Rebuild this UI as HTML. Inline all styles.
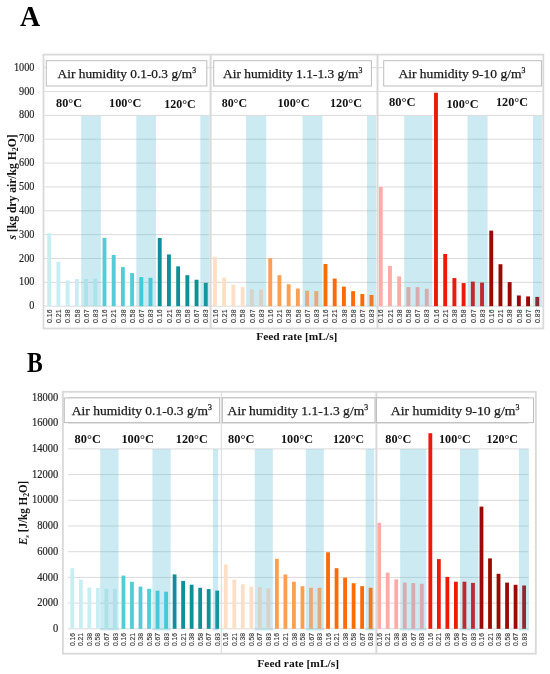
<!DOCTYPE html>
<html><head><meta charset="utf-8"><title>Chart</title>
<style>html,body{margin:0;padding:0;background:#fff;width:550px;height:674px;overflow:hidden}svg{display:block;will-change:transform}</style>
</head><body>
<svg width="550" height="674" viewBox="0 0 550 674">
<rect width="550" height="674" fill="#fff"/>
<text x="20.0" y="25.9" font-family='"Liberation Serif", serif' font-weight="bold" font-size="29.5" fill="#000" textLength="20.2" lengthAdjust="spacingAndGlyphs">A</text>
<text x="27.0" y="371.8" font-family='"Liberation Serif", serif' font-weight="bold" font-size="29" fill="#000" textLength="15.8" lengthAdjust="spacingAndGlyphs">B</text>
<rect x="43.5" y="54.6" width="499.79999999999995" height="273.9" fill="#fff" stroke="#d9d9d9" stroke-width="1.8"/>
<line x1="44.2" x2="542.6" y1="282.35" y2="282.35" stroke="#dbdbdb" stroke-width="1"/>
<line x1="44.2" x2="542.6" y1="258.50" y2="258.50" stroke="#dbdbdb" stroke-width="1"/>
<line x1="44.2" x2="542.6" y1="234.65" y2="234.65" stroke="#dbdbdb" stroke-width="1"/>
<line x1="44.2" x2="542.6" y1="210.80" y2="210.80" stroke="#dbdbdb" stroke-width="1"/>
<line x1="44.2" x2="542.6" y1="186.95" y2="186.95" stroke="#dbdbdb" stroke-width="1"/>
<line x1="44.2" x2="542.6" y1="163.10" y2="163.10" stroke="#dbdbdb" stroke-width="1"/>
<line x1="44.2" x2="542.6" y1="139.25" y2="139.25" stroke="#dbdbdb" stroke-width="1"/>
<line x1="44.2" x2="542.6" y1="115.40" y2="115.40" stroke="#dbdbdb" stroke-width="1"/>
<line x1="44.2" x2="542.6" y1="91.55" y2="91.55" stroke="#dbdbdb" stroke-width="1"/>
<line x1="44.2" x2="542.6" y1="67.70" y2="67.70" stroke="#dbdbdb" stroke-width="1"/>
<line x1="44.2" x2="542.6" y1="306.20" y2="306.20" stroke="#dbdbdb" stroke-width="1"/>
<rect x="47.26" y="233.22" width="3.9" height="72.98" fill="#c6eef3"/>
<rect x="56.47" y="261.84" width="3.9" height="44.36" fill="#c6eef3"/>
<rect x="65.68" y="280.44" width="3.9" height="25.76" fill="#c6eef3"/>
<rect x="74.89" y="279.01" width="3.9" height="27.19" fill="#c6eef3"/>
<rect x="102.52" y="237.99" width="3.9" height="68.21" fill="#52cdd8"/>
<rect x="111.73" y="254.92" width="3.9" height="51.28" fill="#52cdd8"/>
<rect x="120.93" y="267.09" width="3.9" height="39.11" fill="#52cdd8"/>
<rect x="130.14" y="273.05" width="3.9" height="33.15" fill="#52cdd8"/>
<rect x="157.77" y="237.99" width="3.9" height="68.21" fill="#0f9098"/>
<rect x="166.98" y="254.45" width="3.9" height="51.75" fill="#0f9098"/>
<rect x="176.19" y="266.37" width="3.9" height="39.83" fill="#0f9098"/>
<rect x="185.40" y="275.19" width="3.9" height="31.00" fill="#0f9098"/>
<rect x="194.61" y="279.73" width="3.9" height="26.47" fill="#0f9098"/>
<rect x="213.02" y="256.83" width="3.9" height="49.37" fill="#fddfc6"/>
<rect x="222.23" y="277.58" width="3.9" height="28.62" fill="#fddfc6"/>
<rect x="231.44" y="284.74" width="3.9" height="21.46" fill="#fddfc6"/>
<rect x="240.65" y="287.12" width="3.9" height="19.08" fill="#fddfc6"/>
<rect x="268.28" y="258.26" width="3.9" height="47.94" fill="#fba050"/>
<rect x="277.48" y="275.19" width="3.9" height="31.00" fill="#fba050"/>
<rect x="286.69" y="284.26" width="3.9" height="21.94" fill="#fba050"/>
<rect x="295.90" y="288.55" width="3.9" height="17.65" fill="#fba050"/>
<rect x="323.53" y="263.99" width="3.9" height="42.21" fill="#fd6a08"/>
<rect x="332.74" y="278.53" width="3.9" height="27.67" fill="#fd6a08"/>
<rect x="341.95" y="286.64" width="3.9" height="19.56" fill="#fd6a08"/>
<rect x="351.15" y="291.17" width="3.9" height="15.03" fill="#fd6a08"/>
<rect x="360.36" y="294.04" width="3.9" height="12.16" fill="#fd6a08"/>
<rect x="378.78" y="186.95" width="3.9" height="119.25" fill="#fcaca6"/>
<rect x="387.99" y="265.89" width="3.9" height="40.31" fill="#fcaca6"/>
<rect x="397.20" y="276.39" width="3.9" height="29.81" fill="#fcaca6"/>
<rect x="434.03" y="92.74" width="3.9" height="213.46" fill="#ec1a08"/>
<rect x="443.24" y="253.97" width="3.9" height="52.23" fill="#ec1a08"/>
<rect x="452.45" y="278.06" width="3.9" height="28.14" fill="#ec1a08"/>
<rect x="461.66" y="283.07" width="3.9" height="23.13" fill="#ec1a08"/>
<rect x="489.29" y="230.60" width="3.9" height="75.60" fill="#990a04"/>
<rect x="498.50" y="264.22" width="3.9" height="41.98" fill="#990a04"/>
<rect x="507.70" y="282.11" width="3.9" height="24.09" fill="#990a04"/>
<rect x="516.91" y="295.47" width="3.9" height="10.73" fill="#990a04"/>
<rect x="526.12" y="296.42" width="3.9" height="9.78" fill="#990a04"/>
<rect x="81.15" y="116.00" width="19.72" height="190.20" fill="#45b4cd" fill-opacity="0.28"/>
<rect x="136.30" y="116.00" width="19.72" height="190.20" fill="#45b4cd" fill-opacity="0.28"/>
<rect x="200.30" y="116.00" width="9.20" height="190.20" fill="#45b4cd" fill-opacity="0.28"/>
<rect x="246.10" y="116.00" width="20.10" height="190.20" fill="#45b4cd" fill-opacity="0.28"/>
<rect x="302.50" y="116.00" width="19.90" height="190.20" fill="#45b4cd" fill-opacity="0.28"/>
<rect x="367.00" y="116.00" width="9.00" height="190.20" fill="#45b4cd" fill-opacity="0.28"/>
<rect x="404.20" y="116.00" width="28.10" height="190.20" fill="#45b4cd" fill-opacity="0.28"/>
<rect x="467.50" y="116.00" width="20.10" height="190.20" fill="#45b4cd" fill-opacity="0.28"/>
<rect x="533.00" y="116.00" width="8.90" height="190.20" fill="#45b4cd" fill-opacity="0.28"/>
<rect x="84.10" y="279.01" width="3.9" height="27.19" fill="#aae4e9"/>
<rect x="93.31" y="278.53" width="3.9" height="27.67" fill="#aae4e9"/>
<rect x="139.35" y="277.10" width="3.9" height="29.10" fill="#44c9d5"/>
<rect x="148.56" y="277.82" width="3.9" height="28.38" fill="#44c9d5"/>
<rect x="203.81" y="282.83" width="3.9" height="23.37" fill="#13969f"/>
<rect x="249.86" y="289.50" width="3.9" height="16.69" fill="#d8d3c8"/>
<rect x="259.07" y="289.50" width="3.9" height="16.69" fill="#d8d3c8"/>
<rect x="305.11" y="290.70" width="3.9" height="15.50" fill="#e6aa78"/>
<rect x="314.32" y="291.17" width="3.9" height="15.03" fill="#e6aa78"/>
<rect x="369.57" y="294.99" width="3.9" height="11.21" fill="#ee7a22"/>
<rect x="406.41" y="287.12" width="3.9" height="19.08" fill="#d7acaf"/>
<rect x="415.62" y="287.12" width="3.9" height="19.08" fill="#d7acaf"/>
<rect x="424.83" y="288.79" width="3.9" height="17.41" fill="#d7acaf"/>
<rect x="470.87" y="281.63" width="3.9" height="24.57" fill="#be2a2f"/>
<rect x="480.08" y="282.59" width="3.9" height="23.61" fill="#be2a2f"/>
<rect x="535.33" y="296.90" width="3.9" height="9.30" fill="#8c2c32"/>
<line x1="210.6" x2="210.6" y1="54.6" y2="328.5" stroke="#d9d9d9" stroke-width="2"/>
<line x1="377.5" x2="377.5" y1="54.6" y2="328.5" stroke="#d9d9d9" stroke-width="2"/>
<rect x="46.3" y="60.7" width="160.5" height="25.299999999999997" fill="#fff" stroke="#bdbdbd" stroke-width="1"/>
<rect x="213.7" y="60.7" width="157.7" height="25.299999999999997" fill="#fff" stroke="#bdbdbd" stroke-width="1"/>
<rect x="383.7" y="60.7" width="157.7" height="25.299999999999997" fill="#fff" stroke="#bdbdbd" stroke-width="1"/>
<text x="57.6" y="77.7" font-family='"Liberation Serif", serif' font-size="13.2" fill="#1a1a1a" stroke="#1a1a1a" stroke-width="0.25" textLength="138.4" lengthAdjust="spacingAndGlyphs">Air humidity 0.1-0.3 g/m<tspan dy="-4.4" font-size="7.6">3</tspan></text>
<text x="223.0" y="77.7" font-family='"Liberation Serif", serif' font-size="13.2" fill="#1a1a1a" stroke="#1a1a1a" stroke-width="0.25" textLength="139.3" lengthAdjust="spacingAndGlyphs">Air humidity 1.1-1.3 g/m<tspan dy="-4.4" font-size="7.6">3</tspan></text>
<text x="398.4" y="77.7" font-family='"Liberation Serif", serif' font-size="13.2" fill="#1a1a1a" stroke="#1a1a1a" stroke-width="0.25" textLength="127" lengthAdjust="spacingAndGlyphs">Air humidity 9-10 g/m<tspan dy="-4.4" font-size="7.6">3</tspan></text>
<text x="56" y="107" font-family='"Liberation Serif", serif' font-weight="bold" font-size="12.8" fill="#111" textLength="26" lengthAdjust="spacingAndGlyphs">80°C</text>
<text x="109" y="107" font-family='"Liberation Serif", serif' font-weight="bold" font-size="12.8" fill="#111" textLength="32.3" lengthAdjust="spacingAndGlyphs">100°C</text>
<text x="164.2" y="108.2" font-family='"Liberation Serif", serif' font-weight="bold" font-size="12.8" fill="#111" textLength="31.5" lengthAdjust="spacingAndGlyphs">120°C</text>
<text x="221.7" y="107" font-family='"Liberation Serif", serif' font-weight="bold" font-size="12.8" fill="#111" textLength="25.3" lengthAdjust="spacingAndGlyphs">80°C</text>
<text x="277.4" y="107" font-family='"Liberation Serif", serif' font-weight="bold" font-size="12.8" fill="#111" textLength="32.1" lengthAdjust="spacingAndGlyphs">100°C</text>
<text x="330" y="107" font-family='"Liberation Serif", serif' font-weight="bold" font-size="12.8" fill="#111" textLength="32.1" lengthAdjust="spacingAndGlyphs">120°C</text>
<text x="389" y="106" font-family='"Liberation Serif", serif' font-weight="bold" font-size="12.8" fill="#111" textLength="26.6" lengthAdjust="spacingAndGlyphs">80°C</text>
<text x="446.5" y="107.6" font-family='"Liberation Serif", serif' font-weight="bold" font-size="12.8" fill="#111" textLength="32.1" lengthAdjust="spacingAndGlyphs">100°C</text>
<text x="496" y="105.5" font-family='"Liberation Serif", serif' font-weight="bold" font-size="12.8" fill="#111" textLength="32" lengthAdjust="spacingAndGlyphs">120°C</text>
<text x="34.4" y="285.35" text-anchor="end" font-family='"Liberation Serif", serif' font-size="11.5" fill="#1f1f1f" stroke="#1f1f1f" stroke-width="0.2" textLength="15.36" lengthAdjust="spacingAndGlyphs">100</text>
<text x="34.4" y="261.50" text-anchor="end" font-family='"Liberation Serif", serif' font-size="11.5" fill="#1f1f1f" stroke="#1f1f1f" stroke-width="0.2" textLength="15.36" lengthAdjust="spacingAndGlyphs">200</text>
<text x="34.4" y="237.65" text-anchor="end" font-family='"Liberation Serif", serif' font-size="11.5" fill="#1f1f1f" stroke="#1f1f1f" stroke-width="0.2" textLength="15.36" lengthAdjust="spacingAndGlyphs">300</text>
<text x="34.4" y="213.80" text-anchor="end" font-family='"Liberation Serif", serif' font-size="11.5" fill="#1f1f1f" stroke="#1f1f1f" stroke-width="0.2" textLength="15.36" lengthAdjust="spacingAndGlyphs">400</text>
<text x="34.4" y="189.95" text-anchor="end" font-family='"Liberation Serif", serif' font-size="11.5" fill="#1f1f1f" stroke="#1f1f1f" stroke-width="0.2" textLength="15.36" lengthAdjust="spacingAndGlyphs">500</text>
<text x="34.4" y="166.10" text-anchor="end" font-family='"Liberation Serif", serif' font-size="11.5" fill="#1f1f1f" stroke="#1f1f1f" stroke-width="0.2" textLength="15.36" lengthAdjust="spacingAndGlyphs">600</text>
<text x="34.4" y="142.25" text-anchor="end" font-family='"Liberation Serif", serif' font-size="11.5" fill="#1f1f1f" stroke="#1f1f1f" stroke-width="0.2" textLength="15.36" lengthAdjust="spacingAndGlyphs">700</text>
<text x="34.4" y="118.40" text-anchor="end" font-family='"Liberation Serif", serif' font-size="11.5" fill="#1f1f1f" stroke="#1f1f1f" stroke-width="0.2" textLength="15.36" lengthAdjust="spacingAndGlyphs">800</text>
<text x="34.4" y="94.55" text-anchor="end" font-family='"Liberation Serif", serif' font-size="11.5" fill="#1f1f1f" stroke="#1f1f1f" stroke-width="0.2" textLength="15.36" lengthAdjust="spacingAndGlyphs">900</text>
<text x="34.4" y="70.70" text-anchor="end" font-family='"Liberation Serif", serif' font-size="11.5" fill="#1f1f1f" stroke="#1f1f1f" stroke-width="0.2" textLength="20.48" lengthAdjust="spacingAndGlyphs">1000</text>
<text x="34.4" y="309.20" text-anchor="end" font-family='"Liberation Serif", serif' font-size="11.5" fill="#1f1f1f" stroke="#1f1f1f" stroke-width="0.2" textLength="5.12" lengthAdjust="spacingAndGlyphs">0</text>
<text transform="translate(51.91,309.5) rotate(-90)" text-anchor="end" font-family='"Liberation Sans", sans-serif' font-size="8.0" fill="#3a3a3a" stroke="#3a3a3a" stroke-width="0.15" textLength="13.4" lengthAdjust="spacingAndGlyphs">0.16</text>
<text transform="translate(61.12,309.5) rotate(-90)" text-anchor="end" font-family='"Liberation Sans", sans-serif' font-size="8.0" fill="#3a3a3a" stroke="#3a3a3a" stroke-width="0.15" textLength="13.4" lengthAdjust="spacingAndGlyphs">0.21</text>
<text transform="translate(70.33,309.5) rotate(-90)" text-anchor="end" font-family='"Liberation Sans", sans-serif' font-size="8.0" fill="#3a3a3a" stroke="#3a3a3a" stroke-width="0.15" textLength="13.4" lengthAdjust="spacingAndGlyphs">0.38</text>
<text transform="translate(79.54,309.5) rotate(-90)" text-anchor="end" font-family='"Liberation Sans", sans-serif' font-size="8.0" fill="#3a3a3a" stroke="#3a3a3a" stroke-width="0.15" textLength="13.4" lengthAdjust="spacingAndGlyphs">0.58</text>
<text transform="translate(88.75,309.5) rotate(-90)" text-anchor="end" font-family='"Liberation Sans", sans-serif' font-size="8.0" fill="#3a3a3a" stroke="#3a3a3a" stroke-width="0.15" textLength="13.4" lengthAdjust="spacingAndGlyphs">0.67</text>
<text transform="translate(97.96,309.5) rotate(-90)" text-anchor="end" font-family='"Liberation Sans", sans-serif' font-size="8.0" fill="#3a3a3a" stroke="#3a3a3a" stroke-width="0.15" textLength="13.4" lengthAdjust="spacingAndGlyphs">0.83</text>
<text transform="translate(107.17,309.5) rotate(-90)" text-anchor="end" font-family='"Liberation Sans", sans-serif' font-size="8.0" fill="#3a3a3a" stroke="#3a3a3a" stroke-width="0.15" textLength="13.4" lengthAdjust="spacingAndGlyphs">0.16</text>
<text transform="translate(116.38,309.5) rotate(-90)" text-anchor="end" font-family='"Liberation Sans", sans-serif' font-size="8.0" fill="#3a3a3a" stroke="#3a3a3a" stroke-width="0.15" textLength="13.4" lengthAdjust="spacingAndGlyphs">0.21</text>
<text transform="translate(125.58,309.5) rotate(-90)" text-anchor="end" font-family='"Liberation Sans", sans-serif' font-size="8.0" fill="#3a3a3a" stroke="#3a3a3a" stroke-width="0.15" textLength="13.4" lengthAdjust="spacingAndGlyphs">0.38</text>
<text transform="translate(134.79,309.5) rotate(-90)" text-anchor="end" font-family='"Liberation Sans", sans-serif' font-size="8.0" fill="#3a3a3a" stroke="#3a3a3a" stroke-width="0.15" textLength="13.4" lengthAdjust="spacingAndGlyphs">0.58</text>
<text transform="translate(144.00,309.5) rotate(-90)" text-anchor="end" font-family='"Liberation Sans", sans-serif' font-size="8.0" fill="#3a3a3a" stroke="#3a3a3a" stroke-width="0.15" textLength="13.4" lengthAdjust="spacingAndGlyphs">0.67</text>
<text transform="translate(153.21,309.5) rotate(-90)" text-anchor="end" font-family='"Liberation Sans", sans-serif' font-size="8.0" fill="#3a3a3a" stroke="#3a3a3a" stroke-width="0.15" textLength="13.4" lengthAdjust="spacingAndGlyphs">0.83</text>
<text transform="translate(162.42,309.5) rotate(-90)" text-anchor="end" font-family='"Liberation Sans", sans-serif' font-size="8.0" fill="#3a3a3a" stroke="#3a3a3a" stroke-width="0.15" textLength="13.4" lengthAdjust="spacingAndGlyphs">0.16</text>
<text transform="translate(171.63,309.5) rotate(-90)" text-anchor="end" font-family='"Liberation Sans", sans-serif' font-size="8.0" fill="#3a3a3a" stroke="#3a3a3a" stroke-width="0.15" textLength="13.4" lengthAdjust="spacingAndGlyphs">0.21</text>
<text transform="translate(180.84,309.5) rotate(-90)" text-anchor="end" font-family='"Liberation Sans", sans-serif' font-size="8.0" fill="#3a3a3a" stroke="#3a3a3a" stroke-width="0.15" textLength="13.4" lengthAdjust="spacingAndGlyphs">0.38</text>
<text transform="translate(190.05,309.5) rotate(-90)" text-anchor="end" font-family='"Liberation Sans", sans-serif' font-size="8.0" fill="#3a3a3a" stroke="#3a3a3a" stroke-width="0.15" textLength="13.4" lengthAdjust="spacingAndGlyphs">0.58</text>
<text transform="translate(199.26,309.5) rotate(-90)" text-anchor="end" font-family='"Liberation Sans", sans-serif' font-size="8.0" fill="#3a3a3a" stroke="#3a3a3a" stroke-width="0.15" textLength="13.4" lengthAdjust="spacingAndGlyphs">0.67</text>
<text transform="translate(208.46,309.5) rotate(-90)" text-anchor="end" font-family='"Liberation Sans", sans-serif' font-size="8.0" fill="#3a3a3a" stroke="#3a3a3a" stroke-width="0.15" textLength="13.4" lengthAdjust="spacingAndGlyphs">0.83</text>
<text transform="translate(217.67,309.5) rotate(-90)" text-anchor="end" font-family='"Liberation Sans", sans-serif' font-size="8.0" fill="#3a3a3a" stroke="#3a3a3a" stroke-width="0.15" textLength="13.4" lengthAdjust="spacingAndGlyphs">0.16</text>
<text transform="translate(226.88,309.5) rotate(-90)" text-anchor="end" font-family='"Liberation Sans", sans-serif' font-size="8.0" fill="#3a3a3a" stroke="#3a3a3a" stroke-width="0.15" textLength="13.4" lengthAdjust="spacingAndGlyphs">0.21</text>
<text transform="translate(236.09,309.5) rotate(-90)" text-anchor="end" font-family='"Liberation Sans", sans-serif' font-size="8.0" fill="#3a3a3a" stroke="#3a3a3a" stroke-width="0.15" textLength="13.4" lengthAdjust="spacingAndGlyphs">0.38</text>
<text transform="translate(245.30,309.5) rotate(-90)" text-anchor="end" font-family='"Liberation Sans", sans-serif' font-size="8.0" fill="#3a3a3a" stroke="#3a3a3a" stroke-width="0.15" textLength="13.4" lengthAdjust="spacingAndGlyphs">0.58</text>
<text transform="translate(254.51,309.5) rotate(-90)" text-anchor="end" font-family='"Liberation Sans", sans-serif' font-size="8.0" fill="#3a3a3a" stroke="#3a3a3a" stroke-width="0.15" textLength="13.4" lengthAdjust="spacingAndGlyphs">0.67</text>
<text transform="translate(263.72,309.5) rotate(-90)" text-anchor="end" font-family='"Liberation Sans", sans-serif' font-size="8.0" fill="#3a3a3a" stroke="#3a3a3a" stroke-width="0.15" textLength="13.4" lengthAdjust="spacingAndGlyphs">0.83</text>
<text transform="translate(272.93,309.5) rotate(-90)" text-anchor="end" font-family='"Liberation Sans", sans-serif' font-size="8.0" fill="#3a3a3a" stroke="#3a3a3a" stroke-width="0.15" textLength="13.4" lengthAdjust="spacingAndGlyphs">0.16</text>
<text transform="translate(282.13,309.5) rotate(-90)" text-anchor="end" font-family='"Liberation Sans", sans-serif' font-size="8.0" fill="#3a3a3a" stroke="#3a3a3a" stroke-width="0.15" textLength="13.4" lengthAdjust="spacingAndGlyphs">0.21</text>
<text transform="translate(291.34,309.5) rotate(-90)" text-anchor="end" font-family='"Liberation Sans", sans-serif' font-size="8.0" fill="#3a3a3a" stroke="#3a3a3a" stroke-width="0.15" textLength="13.4" lengthAdjust="spacingAndGlyphs">0.38</text>
<text transform="translate(300.55,309.5) rotate(-90)" text-anchor="end" font-family='"Liberation Sans", sans-serif' font-size="8.0" fill="#3a3a3a" stroke="#3a3a3a" stroke-width="0.15" textLength="13.4" lengthAdjust="spacingAndGlyphs">0.58</text>
<text transform="translate(309.76,309.5) rotate(-90)" text-anchor="end" font-family='"Liberation Sans", sans-serif' font-size="8.0" fill="#3a3a3a" stroke="#3a3a3a" stroke-width="0.15" textLength="13.4" lengthAdjust="spacingAndGlyphs">0.67</text>
<text transform="translate(318.97,309.5) rotate(-90)" text-anchor="end" font-family='"Liberation Sans", sans-serif' font-size="8.0" fill="#3a3a3a" stroke="#3a3a3a" stroke-width="0.15" textLength="13.4" lengthAdjust="spacingAndGlyphs">0.83</text>
<text transform="translate(328.18,309.5) rotate(-90)" text-anchor="end" font-family='"Liberation Sans", sans-serif' font-size="8.0" fill="#3a3a3a" stroke="#3a3a3a" stroke-width="0.15" textLength="13.4" lengthAdjust="spacingAndGlyphs">0.16</text>
<text transform="translate(337.39,309.5) rotate(-90)" text-anchor="end" font-family='"Liberation Sans", sans-serif' font-size="8.0" fill="#3a3a3a" stroke="#3a3a3a" stroke-width="0.15" textLength="13.4" lengthAdjust="spacingAndGlyphs">0.21</text>
<text transform="translate(346.60,309.5) rotate(-90)" text-anchor="end" font-family='"Liberation Sans", sans-serif' font-size="8.0" fill="#3a3a3a" stroke="#3a3a3a" stroke-width="0.15" textLength="13.4" lengthAdjust="spacingAndGlyphs">0.38</text>
<text transform="translate(355.80,309.5) rotate(-90)" text-anchor="end" font-family='"Liberation Sans", sans-serif' font-size="8.0" fill="#3a3a3a" stroke="#3a3a3a" stroke-width="0.15" textLength="13.4" lengthAdjust="spacingAndGlyphs">0.58</text>
<text transform="translate(365.01,309.5) rotate(-90)" text-anchor="end" font-family='"Liberation Sans", sans-serif' font-size="8.0" fill="#3a3a3a" stroke="#3a3a3a" stroke-width="0.15" textLength="13.4" lengthAdjust="spacingAndGlyphs">0.67</text>
<text transform="translate(374.22,309.5) rotate(-90)" text-anchor="end" font-family='"Liberation Sans", sans-serif' font-size="8.0" fill="#3a3a3a" stroke="#3a3a3a" stroke-width="0.15" textLength="13.4" lengthAdjust="spacingAndGlyphs">0.83</text>
<text transform="translate(383.43,309.5) rotate(-90)" text-anchor="end" font-family='"Liberation Sans", sans-serif' font-size="8.0" fill="#3a3a3a" stroke="#3a3a3a" stroke-width="0.15" textLength="13.4" lengthAdjust="spacingAndGlyphs">0.16</text>
<text transform="translate(392.64,309.5) rotate(-90)" text-anchor="end" font-family='"Liberation Sans", sans-serif' font-size="8.0" fill="#3a3a3a" stroke="#3a3a3a" stroke-width="0.15" textLength="13.4" lengthAdjust="spacingAndGlyphs">0.21</text>
<text transform="translate(401.85,309.5) rotate(-90)" text-anchor="end" font-family='"Liberation Sans", sans-serif' font-size="8.0" fill="#3a3a3a" stroke="#3a3a3a" stroke-width="0.15" textLength="13.4" lengthAdjust="spacingAndGlyphs">0.38</text>
<text transform="translate(411.06,309.5) rotate(-90)" text-anchor="end" font-family='"Liberation Sans", sans-serif' font-size="8.0" fill="#3a3a3a" stroke="#3a3a3a" stroke-width="0.15" textLength="13.4" lengthAdjust="spacingAndGlyphs">0.58</text>
<text transform="translate(420.27,309.5) rotate(-90)" text-anchor="end" font-family='"Liberation Sans", sans-serif' font-size="8.0" fill="#3a3a3a" stroke="#3a3a3a" stroke-width="0.15" textLength="13.4" lengthAdjust="spacingAndGlyphs">0.67</text>
<text transform="translate(429.48,309.5) rotate(-90)" text-anchor="end" font-family='"Liberation Sans", sans-serif' font-size="8.0" fill="#3a3a3a" stroke="#3a3a3a" stroke-width="0.15" textLength="13.4" lengthAdjust="spacingAndGlyphs">0.83</text>
<text transform="translate(438.68,309.5) rotate(-90)" text-anchor="end" font-family='"Liberation Sans", sans-serif' font-size="8.0" fill="#3a3a3a" stroke="#3a3a3a" stroke-width="0.15" textLength="13.4" lengthAdjust="spacingAndGlyphs">0.16</text>
<text transform="translate(447.89,309.5) rotate(-90)" text-anchor="end" font-family='"Liberation Sans", sans-serif' font-size="8.0" fill="#3a3a3a" stroke="#3a3a3a" stroke-width="0.15" textLength="13.4" lengthAdjust="spacingAndGlyphs">0.21</text>
<text transform="translate(457.10,309.5) rotate(-90)" text-anchor="end" font-family='"Liberation Sans", sans-serif' font-size="8.0" fill="#3a3a3a" stroke="#3a3a3a" stroke-width="0.15" textLength="13.4" lengthAdjust="spacingAndGlyphs">0.38</text>
<text transform="translate(466.31,309.5) rotate(-90)" text-anchor="end" font-family='"Liberation Sans", sans-serif' font-size="8.0" fill="#3a3a3a" stroke="#3a3a3a" stroke-width="0.15" textLength="13.4" lengthAdjust="spacingAndGlyphs">0.58</text>
<text transform="translate(475.52,309.5) rotate(-90)" text-anchor="end" font-family='"Liberation Sans", sans-serif' font-size="8.0" fill="#3a3a3a" stroke="#3a3a3a" stroke-width="0.15" textLength="13.4" lengthAdjust="spacingAndGlyphs">0.67</text>
<text transform="translate(484.73,309.5) rotate(-90)" text-anchor="end" font-family='"Liberation Sans", sans-serif' font-size="8.0" fill="#3a3a3a" stroke="#3a3a3a" stroke-width="0.15" textLength="13.4" lengthAdjust="spacingAndGlyphs">0.83</text>
<text transform="translate(493.94,309.5) rotate(-90)" text-anchor="end" font-family='"Liberation Sans", sans-serif' font-size="8.0" fill="#3a3a3a" stroke="#3a3a3a" stroke-width="0.15" textLength="13.4" lengthAdjust="spacingAndGlyphs">0.16</text>
<text transform="translate(503.15,309.5) rotate(-90)" text-anchor="end" font-family='"Liberation Sans", sans-serif' font-size="8.0" fill="#3a3a3a" stroke="#3a3a3a" stroke-width="0.15" textLength="13.4" lengthAdjust="spacingAndGlyphs">0.21</text>
<text transform="translate(512.35,309.5) rotate(-90)" text-anchor="end" font-family='"Liberation Sans", sans-serif' font-size="8.0" fill="#3a3a3a" stroke="#3a3a3a" stroke-width="0.15" textLength="13.4" lengthAdjust="spacingAndGlyphs">0.38</text>
<text transform="translate(521.56,309.5) rotate(-90)" text-anchor="end" font-family='"Liberation Sans", sans-serif' font-size="8.0" fill="#3a3a3a" stroke="#3a3a3a" stroke-width="0.15" textLength="13.4" lengthAdjust="spacingAndGlyphs">0.58</text>
<text transform="translate(530.77,309.5) rotate(-90)" text-anchor="end" font-family='"Liberation Sans", sans-serif' font-size="8.0" fill="#3a3a3a" stroke="#3a3a3a" stroke-width="0.15" textLength="13.4" lengthAdjust="spacingAndGlyphs">0.67</text>
<text transform="translate(539.98,309.5) rotate(-90)" text-anchor="end" font-family='"Liberation Sans", sans-serif' font-size="8.0" fill="#3a3a3a" stroke="#3a3a3a" stroke-width="0.15" textLength="13.4" lengthAdjust="spacingAndGlyphs">0.83</text>
<rect x="62.9" y="391.8" width="472.9" height="261.90000000000003" fill="#fff" stroke="#d9d9d9" stroke-width="1.8"/>
<line x1="68.0" x2="528.5" y1="603.10" y2="603.10" stroke="#dbdbdb" stroke-width="1"/>
<line x1="68.0" x2="528.5" y1="577.40" y2="577.40" stroke="#dbdbdb" stroke-width="1"/>
<line x1="68.0" x2="528.5" y1="551.70" y2="551.70" stroke="#dbdbdb" stroke-width="1"/>
<line x1="68.0" x2="528.5" y1="526.00" y2="526.00" stroke="#dbdbdb" stroke-width="1"/>
<line x1="68.0" x2="528.5" y1="500.30" y2="500.30" stroke="#dbdbdb" stroke-width="1"/>
<line x1="68.0" x2="528.5" y1="474.60" y2="474.60" stroke="#dbdbdb" stroke-width="1"/>
<line x1="68.0" x2="528.5" y1="448.90" y2="448.90" stroke="#dbdbdb" stroke-width="1"/>
<line x1="68.0" x2="528.5" y1="423.20" y2="423.20" stroke="#dbdbdb" stroke-width="1"/>
<line x1="68.0" x2="528.5" y1="397.50" y2="397.50" stroke="#dbdbdb" stroke-width="1"/>
<line x1="68.0" x2="528.5" y1="628.80" y2="628.80" stroke="#dbdbdb" stroke-width="1"/>
<rect x="70.39" y="568.20" width="3.8" height="60.60" fill="#c6eef3"/>
<rect x="78.92" y="579.60" width="3.8" height="49.20" fill="#c6eef3"/>
<rect x="87.44" y="587.50" width="3.8" height="41.30" fill="#c6eef3"/>
<rect x="95.97" y="587.81" width="3.8" height="40.99" fill="#c6eef3"/>
<rect x="121.54" y="575.60" width="3.8" height="53.20" fill="#52cdd8"/>
<rect x="130.06" y="581.81" width="3.8" height="46.99" fill="#52cdd8"/>
<rect x="138.59" y="586.60" width="3.8" height="42.20" fill="#52cdd8"/>
<rect x="147.11" y="588.80" width="3.8" height="40.00" fill="#52cdd8"/>
<rect x="172.69" y="574.41" width="3.8" height="54.39" fill="#0f9098"/>
<rect x="181.21" y="580.90" width="3.8" height="47.90" fill="#0f9098"/>
<rect x="189.74" y="584.70" width="3.8" height="44.10" fill="#0f9098"/>
<rect x="198.26" y="587.81" width="3.8" height="40.99" fill="#0f9098"/>
<rect x="206.79" y="589.09" width="3.8" height="39.71" fill="#0f9098"/>
<rect x="223.84" y="564.50" width="3.8" height="64.30" fill="#fddfc6"/>
<rect x="232.36" y="579.60" width="3.8" height="49.20" fill="#fddfc6"/>
<rect x="240.88" y="584.20" width="3.8" height="44.60" fill="#fddfc6"/>
<rect x="249.41" y="586.60" width="3.8" height="42.20" fill="#fddfc6"/>
<rect x="274.98" y="558.81" width="3.8" height="69.99" fill="#fba050"/>
<rect x="283.51" y="574.41" width="3.8" height="54.39" fill="#fba050"/>
<rect x="292.03" y="581.70" width="3.8" height="47.10" fill="#fba050"/>
<rect x="300.56" y="586.20" width="3.8" height="42.60" fill="#fba050"/>
<rect x="326.13" y="552.30" width="3.8" height="76.50" fill="#fd6a08"/>
<rect x="334.65" y="568.20" width="3.8" height="60.60" fill="#fd6a08"/>
<rect x="343.18" y="577.61" width="3.8" height="51.19" fill="#fd6a08"/>
<rect x="351.70" y="583.20" width="3.8" height="45.60" fill="#fd6a08"/>
<rect x="360.23" y="586.20" width="3.8" height="42.60" fill="#fd6a08"/>
<rect x="377.28" y="522.80" width="3.8" height="106.00" fill="#fcaca6"/>
<rect x="385.80" y="572.61" width="3.8" height="56.19" fill="#fcaca6"/>
<rect x="394.33" y="579.30" width="3.8" height="49.50" fill="#fcaca6"/>
<rect x="428.43" y="433.20" width="3.8" height="195.60" fill="#ec1a08"/>
<rect x="436.95" y="559.10" width="3.8" height="69.70" fill="#ec1a08"/>
<rect x="445.47" y="576.90" width="3.8" height="51.90" fill="#ec1a08"/>
<rect x="454.00" y="581.70" width="3.8" height="47.10" fill="#ec1a08"/>
<rect x="479.57" y="506.60" width="3.8" height="122.20" fill="#990a04"/>
<rect x="488.10" y="558.39" width="3.8" height="70.41" fill="#990a04"/>
<rect x="496.62" y="573.80" width="3.8" height="55.00" fill="#990a04"/>
<rect x="505.15" y="582.60" width="3.8" height="46.20" fill="#990a04"/>
<rect x="513.67" y="584.80" width="3.8" height="44.00" fill="#990a04"/>
<rect x="100.20" y="449.00" width="18.40" height="181.50" fill="#45b4cd" fill-opacity="0.28"/>
<rect x="152.40" y="449.00" width="18.30" height="181.50" fill="#45b4cd" fill-opacity="0.28"/>
<rect x="212.90" y="449.00" width="5.30" height="181.50" fill="#45b4cd" fill-opacity="0.28"/>
<rect x="254.80" y="449.00" width="18.00" height="181.50" fill="#45b4cd" fill-opacity="0.28"/>
<rect x="305.80" y="449.00" width="18.00" height="181.50" fill="#45b4cd" fill-opacity="0.28"/>
<rect x="365.60" y="449.00" width="8.60" height="181.50" fill="#45b4cd" fill-opacity="0.28"/>
<rect x="400.20" y="449.00" width="26.10" height="181.50" fill="#45b4cd" fill-opacity="0.28"/>
<rect x="460.00" y="449.00" width="18.50" height="181.50" fill="#45b4cd" fill-opacity="0.28"/>
<rect x="518.90" y="449.00" width="10.00" height="181.50" fill="#45b4cd" fill-opacity="0.28"/>
<rect x="104.49" y="588.71" width="3.8" height="40.09" fill="#aae4e9"/>
<rect x="113.02" y="589.00" width="3.8" height="39.80" fill="#aae4e9"/>
<rect x="155.64" y="590.70" width="3.8" height="38.10" fill="#44c9d5"/>
<rect x="164.16" y="591.70" width="3.8" height="37.10" fill="#44c9d5"/>
<rect x="215.31" y="590.60" width="3.8" height="38.20" fill="#13969f"/>
<rect x="257.93" y="587.10" width="3.8" height="41.70" fill="#d8d3c8"/>
<rect x="266.46" y="588.30" width="3.8" height="40.50" fill="#d8d3c8"/>
<rect x="309.08" y="587.81" width="3.8" height="40.99" fill="#e6aa78"/>
<rect x="317.61" y="587.81" width="3.8" height="40.99" fill="#e6aa78"/>
<rect x="368.75" y="587.81" width="3.8" height="40.99" fill="#ee7a22"/>
<rect x="402.85" y="582.60" width="3.8" height="46.20" fill="#d7acaf"/>
<rect x="411.38" y="583.11" width="3.8" height="45.69" fill="#d7acaf"/>
<rect x="419.90" y="583.80" width="3.8" height="45.00" fill="#d7acaf"/>
<rect x="462.52" y="581.70" width="3.8" height="47.10" fill="#be2a2f"/>
<rect x="471.05" y="582.90" width="3.8" height="45.90" fill="#be2a2f"/>
<rect x="522.20" y="585.50" width="3.8" height="43.30" fill="#8c2c32"/>
<line x1="221.3" x2="221.3" y1="391.8" y2="653.7" stroke="#d9d9d9" stroke-width="1"/>
<line x1="376.4" x2="376.4" y1="391.8" y2="653.7" stroke="#d9d9d9" stroke-width="2"/>
<rect x="64.3" y="397.9" width="155.3" height="24.700000000000045" fill="#fff" stroke="#bdbdbd" stroke-width="1"/>
<rect x="222.4" y="397.9" width="152.6" height="24.700000000000045" fill="#fff" stroke="#bdbdbd" stroke-width="1"/>
<rect x="376.4" y="397.9" width="157.10000000000002" height="24.700000000000045" fill="#fff" stroke="#bdbdbd" stroke-width="1"/>
<text x="71.8" y="414.6" font-family='"Liberation Serif", serif' font-size="13.2" fill="#1a1a1a" stroke="#1a1a1a" stroke-width="0.25" textLength="140" lengthAdjust="spacingAndGlyphs">Air humidity 0.1-0.3 g/m<tspan dy="-4.4" font-size="7.6">3</tspan></text>
<text x="227.6" y="414.6" font-family='"Liberation Serif", serif' font-size="13.2" fill="#1a1a1a" stroke="#1a1a1a" stroke-width="0.25" textLength="140.5" lengthAdjust="spacingAndGlyphs">Air humidity 1.1-1.3 g/m<tspan dy="-4.4" font-size="7.6">3</tspan></text>
<text x="390.8" y="414.6" font-family='"Liberation Serif", serif' font-size="13.2" fill="#1a1a1a" stroke="#1a1a1a" stroke-width="0.25" textLength="128.6" lengthAdjust="spacingAndGlyphs">Air humidity 9-10 g/m<tspan dy="-4.4" font-size="7.6">3</tspan></text>
<text x="74.6" y="442.5" font-family='"Liberation Serif", serif' font-weight="bold" font-size="12.8" fill="#111" textLength="26.3" lengthAdjust="spacingAndGlyphs">80°C</text>
<text x="121.4" y="442.5" font-family='"Liberation Serif", serif' font-weight="bold" font-size="12.8" fill="#111" textLength="32.6" lengthAdjust="spacingAndGlyphs">100°C</text>
<text x="175.8" y="442.5" font-family='"Liberation Serif", serif' font-weight="bold" font-size="12.8" fill="#111" textLength="32" lengthAdjust="spacingAndGlyphs">120°C</text>
<text x="228.1" y="442.5" font-family='"Liberation Serif", serif' font-weight="bold" font-size="12.8" fill="#111" textLength="26.2" lengthAdjust="spacingAndGlyphs">80°C</text>
<text x="281" y="442.5" font-family='"Liberation Serif", serif' font-weight="bold" font-size="12.8" fill="#111" textLength="32" lengthAdjust="spacingAndGlyphs">100°C</text>
<text x="332.9" y="442.5" font-family='"Liberation Serif", serif' font-weight="bold" font-size="12.8" fill="#111" textLength="31.1" lengthAdjust="spacingAndGlyphs">120°C</text>
<text x="385.3" y="442.5" font-family='"Liberation Serif", serif' font-weight="bold" font-size="12.8" fill="#111" textLength="26" lengthAdjust="spacingAndGlyphs">80°C</text>
<text x="439" y="442.5" font-family='"Liberation Serif", serif' font-weight="bold" font-size="12.8" fill="#111" textLength="31.9" lengthAdjust="spacingAndGlyphs">100°C</text>
<text x="486.4" y="442.5" font-family='"Liberation Serif", serif' font-weight="bold" font-size="12.8" fill="#111" textLength="31.6" lengthAdjust="spacingAndGlyphs">120°C</text>
<text x="58.3" y="606.20" text-anchor="end" font-family='"Liberation Serif", serif' font-size="11.5" fill="#1f1f1f" stroke="#1f1f1f" stroke-width="0.2" textLength="21.00" lengthAdjust="spacingAndGlyphs">2000</text>
<text x="58.3" y="580.50" text-anchor="end" font-family='"Liberation Serif", serif' font-size="11.5" fill="#1f1f1f" stroke="#1f1f1f" stroke-width="0.2" textLength="21.00" lengthAdjust="spacingAndGlyphs">4000</text>
<text x="58.3" y="554.80" text-anchor="end" font-family='"Liberation Serif", serif' font-size="11.5" fill="#1f1f1f" stroke="#1f1f1f" stroke-width="0.2" textLength="21.00" lengthAdjust="spacingAndGlyphs">6000</text>
<text x="58.3" y="529.10" text-anchor="end" font-family='"Liberation Serif", serif' font-size="11.5" fill="#1f1f1f" stroke="#1f1f1f" stroke-width="0.2" textLength="21.00" lengthAdjust="spacingAndGlyphs">8000</text>
<text x="58.3" y="503.40" text-anchor="end" font-family='"Liberation Serif", serif' font-size="11.5" fill="#1f1f1f" stroke="#1f1f1f" stroke-width="0.2" textLength="26.25" lengthAdjust="spacingAndGlyphs">10000</text>
<text x="58.3" y="477.70" text-anchor="end" font-family='"Liberation Serif", serif' font-size="11.5" fill="#1f1f1f" stroke="#1f1f1f" stroke-width="0.2" textLength="26.25" lengthAdjust="spacingAndGlyphs">12000</text>
<text x="58.3" y="452.00" text-anchor="end" font-family='"Liberation Serif", serif' font-size="11.5" fill="#1f1f1f" stroke="#1f1f1f" stroke-width="0.2" textLength="26.25" lengthAdjust="spacingAndGlyphs">14000</text>
<text x="58.3" y="426.30" text-anchor="end" font-family='"Liberation Serif", serif' font-size="11.5" fill="#1f1f1f" stroke="#1f1f1f" stroke-width="0.2" textLength="26.25" lengthAdjust="spacingAndGlyphs">16000</text>
<text x="58.3" y="400.60" text-anchor="end" font-family='"Liberation Serif", serif' font-size="11.5" fill="#1f1f1f" stroke="#1f1f1f" stroke-width="0.2" textLength="26.25" lengthAdjust="spacingAndGlyphs">18000</text>
<text x="58.3" y="631.90" text-anchor="end" font-family='"Liberation Serif", serif' font-size="11.5" fill="#1f1f1f" stroke="#1f1f1f" stroke-width="0.2" textLength="5.25" lengthAdjust="spacingAndGlyphs">0</text>
<text transform="translate(74.89,632.9) rotate(-90)" text-anchor="end" font-family='"Liberation Sans", sans-serif' font-size="8.0" fill="#3a3a3a" stroke="#3a3a3a" stroke-width="0.15" textLength="13.2" lengthAdjust="spacingAndGlyphs">0.16</text>
<text transform="translate(83.42,632.9) rotate(-90)" text-anchor="end" font-family='"Liberation Sans", sans-serif' font-size="8.0" fill="#3a3a3a" stroke="#3a3a3a" stroke-width="0.15" textLength="13.2" lengthAdjust="spacingAndGlyphs">0.21</text>
<text transform="translate(91.94,632.9) rotate(-90)" text-anchor="end" font-family='"Liberation Sans", sans-serif' font-size="8.0" fill="#3a3a3a" stroke="#3a3a3a" stroke-width="0.15" textLength="13.2" lengthAdjust="spacingAndGlyphs">0.38</text>
<text transform="translate(100.47,632.9) rotate(-90)" text-anchor="end" font-family='"Liberation Sans", sans-serif' font-size="8.0" fill="#3a3a3a" stroke="#3a3a3a" stroke-width="0.15" textLength="13.2" lengthAdjust="spacingAndGlyphs">0.58</text>
<text transform="translate(108.99,632.9) rotate(-90)" text-anchor="end" font-family='"Liberation Sans", sans-serif' font-size="8.0" fill="#3a3a3a" stroke="#3a3a3a" stroke-width="0.15" textLength="13.2" lengthAdjust="spacingAndGlyphs">0.67</text>
<text transform="translate(117.52,632.9) rotate(-90)" text-anchor="end" font-family='"Liberation Sans", sans-serif' font-size="8.0" fill="#3a3a3a" stroke="#3a3a3a" stroke-width="0.15" textLength="13.2" lengthAdjust="spacingAndGlyphs">0.83</text>
<text transform="translate(126.04,632.9) rotate(-90)" text-anchor="end" font-family='"Liberation Sans", sans-serif' font-size="8.0" fill="#3a3a3a" stroke="#3a3a3a" stroke-width="0.15" textLength="13.2" lengthAdjust="spacingAndGlyphs">0.16</text>
<text transform="translate(134.56,632.9) rotate(-90)" text-anchor="end" font-family='"Liberation Sans", sans-serif' font-size="8.0" fill="#3a3a3a" stroke="#3a3a3a" stroke-width="0.15" textLength="13.2" lengthAdjust="spacingAndGlyphs">0.21</text>
<text transform="translate(143.09,632.9) rotate(-90)" text-anchor="end" font-family='"Liberation Sans", sans-serif' font-size="8.0" fill="#3a3a3a" stroke="#3a3a3a" stroke-width="0.15" textLength="13.2" lengthAdjust="spacingAndGlyphs">0.38</text>
<text transform="translate(151.61,632.9) rotate(-90)" text-anchor="end" font-family='"Liberation Sans", sans-serif' font-size="8.0" fill="#3a3a3a" stroke="#3a3a3a" stroke-width="0.15" textLength="13.2" lengthAdjust="spacingAndGlyphs">0.58</text>
<text transform="translate(160.14,632.9) rotate(-90)" text-anchor="end" font-family='"Liberation Sans", sans-serif' font-size="8.0" fill="#3a3a3a" stroke="#3a3a3a" stroke-width="0.15" textLength="13.2" lengthAdjust="spacingAndGlyphs">0.67</text>
<text transform="translate(168.66,632.9) rotate(-90)" text-anchor="end" font-family='"Liberation Sans", sans-serif' font-size="8.0" fill="#3a3a3a" stroke="#3a3a3a" stroke-width="0.15" textLength="13.2" lengthAdjust="spacingAndGlyphs">0.83</text>
<text transform="translate(177.19,632.9) rotate(-90)" text-anchor="end" font-family='"Liberation Sans", sans-serif' font-size="8.0" fill="#3a3a3a" stroke="#3a3a3a" stroke-width="0.15" textLength="13.2" lengthAdjust="spacingAndGlyphs">0.16</text>
<text transform="translate(185.71,632.9) rotate(-90)" text-anchor="end" font-family='"Liberation Sans", sans-serif' font-size="8.0" fill="#3a3a3a" stroke="#3a3a3a" stroke-width="0.15" textLength="13.2" lengthAdjust="spacingAndGlyphs">0.21</text>
<text transform="translate(194.24,632.9) rotate(-90)" text-anchor="end" font-family='"Liberation Sans", sans-serif' font-size="8.0" fill="#3a3a3a" stroke="#3a3a3a" stroke-width="0.15" textLength="13.2" lengthAdjust="spacingAndGlyphs">0.38</text>
<text transform="translate(202.76,632.9) rotate(-90)" text-anchor="end" font-family='"Liberation Sans", sans-serif' font-size="8.0" fill="#3a3a3a" stroke="#3a3a3a" stroke-width="0.15" textLength="13.2" lengthAdjust="spacingAndGlyphs">0.58</text>
<text transform="translate(211.29,632.9) rotate(-90)" text-anchor="end" font-family='"Liberation Sans", sans-serif' font-size="8.0" fill="#3a3a3a" stroke="#3a3a3a" stroke-width="0.15" textLength="13.2" lengthAdjust="spacingAndGlyphs">0.67</text>
<text transform="translate(219.81,632.9) rotate(-90)" text-anchor="end" font-family='"Liberation Sans", sans-serif' font-size="8.0" fill="#3a3a3a" stroke="#3a3a3a" stroke-width="0.15" textLength="13.2" lengthAdjust="spacingAndGlyphs">0.83</text>
<text transform="translate(228.34,632.9) rotate(-90)" text-anchor="end" font-family='"Liberation Sans", sans-serif' font-size="8.0" fill="#3a3a3a" stroke="#3a3a3a" stroke-width="0.15" textLength="13.2" lengthAdjust="spacingAndGlyphs">0.16</text>
<text transform="translate(236.86,632.9) rotate(-90)" text-anchor="end" font-family='"Liberation Sans", sans-serif' font-size="8.0" fill="#3a3a3a" stroke="#3a3a3a" stroke-width="0.15" textLength="13.2" lengthAdjust="spacingAndGlyphs">0.21</text>
<text transform="translate(245.38,632.9) rotate(-90)" text-anchor="end" font-family='"Liberation Sans", sans-serif' font-size="8.0" fill="#3a3a3a" stroke="#3a3a3a" stroke-width="0.15" textLength="13.2" lengthAdjust="spacingAndGlyphs">0.38</text>
<text transform="translate(253.91,632.9) rotate(-90)" text-anchor="end" font-family='"Liberation Sans", sans-serif' font-size="8.0" fill="#3a3a3a" stroke="#3a3a3a" stroke-width="0.15" textLength="13.2" lengthAdjust="spacingAndGlyphs">0.58</text>
<text transform="translate(262.43,632.9) rotate(-90)" text-anchor="end" font-family='"Liberation Sans", sans-serif' font-size="8.0" fill="#3a3a3a" stroke="#3a3a3a" stroke-width="0.15" textLength="13.2" lengthAdjust="spacingAndGlyphs">0.67</text>
<text transform="translate(270.96,632.9) rotate(-90)" text-anchor="end" font-family='"Liberation Sans", sans-serif' font-size="8.0" fill="#3a3a3a" stroke="#3a3a3a" stroke-width="0.15" textLength="13.2" lengthAdjust="spacingAndGlyphs">0.83</text>
<text transform="translate(279.48,632.9) rotate(-90)" text-anchor="end" font-family='"Liberation Sans", sans-serif' font-size="8.0" fill="#3a3a3a" stroke="#3a3a3a" stroke-width="0.15" textLength="13.2" lengthAdjust="spacingAndGlyphs">0.16</text>
<text transform="translate(288.01,632.9) rotate(-90)" text-anchor="end" font-family='"Liberation Sans", sans-serif' font-size="8.0" fill="#3a3a3a" stroke="#3a3a3a" stroke-width="0.15" textLength="13.2" lengthAdjust="spacingAndGlyphs">0.21</text>
<text transform="translate(296.53,632.9) rotate(-90)" text-anchor="end" font-family='"Liberation Sans", sans-serif' font-size="8.0" fill="#3a3a3a" stroke="#3a3a3a" stroke-width="0.15" textLength="13.2" lengthAdjust="spacingAndGlyphs">0.38</text>
<text transform="translate(305.06,632.9) rotate(-90)" text-anchor="end" font-family='"Liberation Sans", sans-serif' font-size="8.0" fill="#3a3a3a" stroke="#3a3a3a" stroke-width="0.15" textLength="13.2" lengthAdjust="spacingAndGlyphs">0.58</text>
<text transform="translate(313.58,632.9) rotate(-90)" text-anchor="end" font-family='"Liberation Sans", sans-serif' font-size="8.0" fill="#3a3a3a" stroke="#3a3a3a" stroke-width="0.15" textLength="13.2" lengthAdjust="spacingAndGlyphs">0.67</text>
<text transform="translate(322.11,632.9) rotate(-90)" text-anchor="end" font-family='"Liberation Sans", sans-serif' font-size="8.0" fill="#3a3a3a" stroke="#3a3a3a" stroke-width="0.15" textLength="13.2" lengthAdjust="spacingAndGlyphs">0.83</text>
<text transform="translate(330.63,632.9) rotate(-90)" text-anchor="end" font-family='"Liberation Sans", sans-serif' font-size="8.0" fill="#3a3a3a" stroke="#3a3a3a" stroke-width="0.15" textLength="13.2" lengthAdjust="spacingAndGlyphs">0.16</text>
<text transform="translate(339.15,632.9) rotate(-90)" text-anchor="end" font-family='"Liberation Sans", sans-serif' font-size="8.0" fill="#3a3a3a" stroke="#3a3a3a" stroke-width="0.15" textLength="13.2" lengthAdjust="spacingAndGlyphs">0.21</text>
<text transform="translate(347.68,632.9) rotate(-90)" text-anchor="end" font-family='"Liberation Sans", sans-serif' font-size="8.0" fill="#3a3a3a" stroke="#3a3a3a" stroke-width="0.15" textLength="13.2" lengthAdjust="spacingAndGlyphs">0.38</text>
<text transform="translate(356.20,632.9) rotate(-90)" text-anchor="end" font-family='"Liberation Sans", sans-serif' font-size="8.0" fill="#3a3a3a" stroke="#3a3a3a" stroke-width="0.15" textLength="13.2" lengthAdjust="spacingAndGlyphs">0.58</text>
<text transform="translate(364.73,632.9) rotate(-90)" text-anchor="end" font-family='"Liberation Sans", sans-serif' font-size="8.0" fill="#3a3a3a" stroke="#3a3a3a" stroke-width="0.15" textLength="13.2" lengthAdjust="spacingAndGlyphs">0.67</text>
<text transform="translate(373.25,632.9) rotate(-90)" text-anchor="end" font-family='"Liberation Sans", sans-serif' font-size="8.0" fill="#3a3a3a" stroke="#3a3a3a" stroke-width="0.15" textLength="13.2" lengthAdjust="spacingAndGlyphs">0.83</text>
<text transform="translate(381.78,632.9) rotate(-90)" text-anchor="end" font-family='"Liberation Sans", sans-serif' font-size="8.0" fill="#3a3a3a" stroke="#3a3a3a" stroke-width="0.15" textLength="13.2" lengthAdjust="spacingAndGlyphs">0.16</text>
<text transform="translate(390.30,632.9) rotate(-90)" text-anchor="end" font-family='"Liberation Sans", sans-serif' font-size="8.0" fill="#3a3a3a" stroke="#3a3a3a" stroke-width="0.15" textLength="13.2" lengthAdjust="spacingAndGlyphs">0.21</text>
<text transform="translate(398.83,632.9) rotate(-90)" text-anchor="end" font-family='"Liberation Sans", sans-serif' font-size="8.0" fill="#3a3a3a" stroke="#3a3a3a" stroke-width="0.15" textLength="13.2" lengthAdjust="spacingAndGlyphs">0.38</text>
<text transform="translate(407.35,632.9) rotate(-90)" text-anchor="end" font-family='"Liberation Sans", sans-serif' font-size="8.0" fill="#3a3a3a" stroke="#3a3a3a" stroke-width="0.15" textLength="13.2" lengthAdjust="spacingAndGlyphs">0.58</text>
<text transform="translate(415.88,632.9) rotate(-90)" text-anchor="end" font-family='"Liberation Sans", sans-serif' font-size="8.0" fill="#3a3a3a" stroke="#3a3a3a" stroke-width="0.15" textLength="13.2" lengthAdjust="spacingAndGlyphs">0.67</text>
<text transform="translate(424.40,632.9) rotate(-90)" text-anchor="end" font-family='"Liberation Sans", sans-serif' font-size="8.0" fill="#3a3a3a" stroke="#3a3a3a" stroke-width="0.15" textLength="13.2" lengthAdjust="spacingAndGlyphs">0.83</text>
<text transform="translate(432.93,632.9) rotate(-90)" text-anchor="end" font-family='"Liberation Sans", sans-serif' font-size="8.0" fill="#3a3a3a" stroke="#3a3a3a" stroke-width="0.15" textLength="13.2" lengthAdjust="spacingAndGlyphs">0.16</text>
<text transform="translate(441.45,632.9) rotate(-90)" text-anchor="end" font-family='"Liberation Sans", sans-serif' font-size="8.0" fill="#3a3a3a" stroke="#3a3a3a" stroke-width="0.15" textLength="13.2" lengthAdjust="spacingAndGlyphs">0.21</text>
<text transform="translate(449.97,632.9) rotate(-90)" text-anchor="end" font-family='"Liberation Sans", sans-serif' font-size="8.0" fill="#3a3a3a" stroke="#3a3a3a" stroke-width="0.15" textLength="13.2" lengthAdjust="spacingAndGlyphs">0.38</text>
<text transform="translate(458.50,632.9) rotate(-90)" text-anchor="end" font-family='"Liberation Sans", sans-serif' font-size="8.0" fill="#3a3a3a" stroke="#3a3a3a" stroke-width="0.15" textLength="13.2" lengthAdjust="spacingAndGlyphs">0.58</text>
<text transform="translate(467.02,632.9) rotate(-90)" text-anchor="end" font-family='"Liberation Sans", sans-serif' font-size="8.0" fill="#3a3a3a" stroke="#3a3a3a" stroke-width="0.15" textLength="13.2" lengthAdjust="spacingAndGlyphs">0.67</text>
<text transform="translate(475.55,632.9) rotate(-90)" text-anchor="end" font-family='"Liberation Sans", sans-serif' font-size="8.0" fill="#3a3a3a" stroke="#3a3a3a" stroke-width="0.15" textLength="13.2" lengthAdjust="spacingAndGlyphs">0.83</text>
<text transform="translate(484.07,632.9) rotate(-90)" text-anchor="end" font-family='"Liberation Sans", sans-serif' font-size="8.0" fill="#3a3a3a" stroke="#3a3a3a" stroke-width="0.15" textLength="13.2" lengthAdjust="spacingAndGlyphs">0.16</text>
<text transform="translate(492.60,632.9) rotate(-90)" text-anchor="end" font-family='"Liberation Sans", sans-serif' font-size="8.0" fill="#3a3a3a" stroke="#3a3a3a" stroke-width="0.15" textLength="13.2" lengthAdjust="spacingAndGlyphs">0.21</text>
<text transform="translate(501.12,632.9) rotate(-90)" text-anchor="end" font-family='"Liberation Sans", sans-serif' font-size="8.0" fill="#3a3a3a" stroke="#3a3a3a" stroke-width="0.15" textLength="13.2" lengthAdjust="spacingAndGlyphs">0.38</text>
<text transform="translate(509.65,632.9) rotate(-90)" text-anchor="end" font-family='"Liberation Sans", sans-serif' font-size="8.0" fill="#3a3a3a" stroke="#3a3a3a" stroke-width="0.15" textLength="13.2" lengthAdjust="spacingAndGlyphs">0.58</text>
<text transform="translate(518.17,632.9) rotate(-90)" text-anchor="end" font-family='"Liberation Sans", sans-serif' font-size="8.0" fill="#3a3a3a" stroke="#3a3a3a" stroke-width="0.15" textLength="13.2" lengthAdjust="spacingAndGlyphs">0.67</text>
<text transform="translate(526.70,632.9) rotate(-90)" text-anchor="end" font-family='"Liberation Sans", sans-serif' font-size="8.0" fill="#3a3a3a" stroke="#3a3a3a" stroke-width="0.15" textLength="13.2" lengthAdjust="spacingAndGlyphs">0.83</text>
<text transform="translate(15.7,187.0) rotate(-90)" text-anchor="middle" font-family='"Liberation Serif", serif' font-weight="bold" font-size="11.7" fill="#111" textLength="105" lengthAdjust="spacingAndGlyphs"><tspan font-style="italic">s</tspan> [kg dry air/kg H<tspan dy="2.5" font-size="8">2</tspan><tspan dy="-2.5">O]</tspan></text>
<text transform="translate(26.6,512.9) rotate(-90)" text-anchor="middle" font-family='"Liberation Serif", serif' font-weight="bold" font-size="11.7" fill="#111" textLength="64.3" lengthAdjust="spacingAndGlyphs"><tspan font-style="italic">E</tspan><tspan font-style="italic" dy="2.5" font-size="7">s</tspan><tspan dy="-2.5"> [J/kg H</tspan><tspan dy="2.5" font-size="8">2</tspan><tspan dy="-2.5">O]</tspan></text>
<text x="256.2" y="340" font-family='"Liberation Serif", serif' font-weight="bold" font-size="11" fill="#111" textLength="81.2" lengthAdjust="spacingAndGlyphs">Feed rate [mL/s]</text>
<text x="257.3" y="666.8" font-family='"Liberation Serif", serif' font-weight="bold" font-size="11" fill="#111" textLength="81.8" lengthAdjust="spacingAndGlyphs">Feed rate [mL/s]</text>
</svg>
</body></html>
